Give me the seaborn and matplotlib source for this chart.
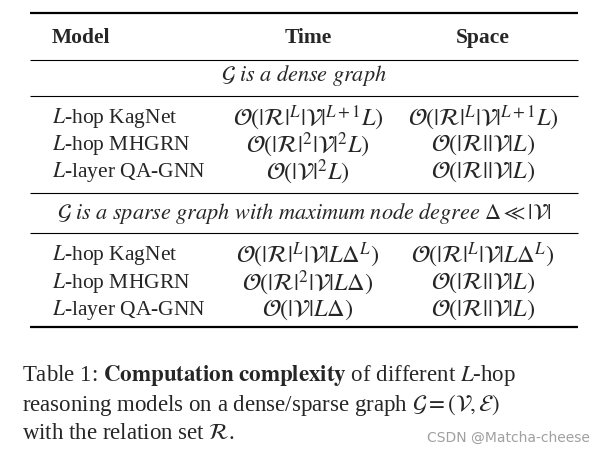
import matplotlib
matplotlib.use("Agg")
import matplotlib.pyplot as plt
import seaborn as sns

sns.set_style("white")
plt.rcParams['font.family'] = ['Liberation Serif', 'DejaVu Serif']
plt.rcParams['mathtext.fontset'] = 'stix'

headers = ["Model", "Time", "Space"]
models = [r"$L$-hop KagNet", r"$L$-hop MHGRN", r"$L$-layer QA-GNN"]
dense_title = r"$\mathcal{G}$ $\it{is\ a\ dense\ graph}$"
sparse_title = r"$\mathcal{G}$ $\it{is\ a\ sparse\ graph\ with\ maximum\ node\ degree}$ $\Delta \ll |\mathcal{V}|$"
time_dense = [r"$\mathcal{O}\left(|\mathcal{R}|^L|\mathcal{V}|^{L+1}L\right)$",
              r"$\mathcal{O}\left(|\mathcal{R}|^2|\mathcal{V}|^2L\right)$",
              r"$\mathcal{O}\left(|\mathcal{V}|^2L\right)$"]
space_dense = [r"$\mathcal{O}\left(|\mathcal{R}|^L|\mathcal{V}|^{L+1}L\right)$",
               r"$\mathcal{O}(|\mathcal{R}||\mathcal{V}|L)$",
               r"$\mathcal{O}(|\mathcal{R}||\mathcal{V}|L)$"]
time_sparse = [r"$\mathcal{O}\left(|\mathcal{R}|^L|\mathcal{V}|L\Delta^L\right)$",
               r"$\mathcal{O}\left(|\mathcal{R}|^2|\mathcal{V}|L\Delta\right)$",
               r"$\mathcal{O}(|\mathcal{V}|L\Delta)$"]
space_sparse = [r"$\mathcal{O}\left(|\mathcal{R}|^L|\mathcal{V}|L\Delta^L\right)$",
                r"$\mathcal{O}(|\mathcal{R}||\mathcal{V}|L)$",
                r"$\mathcal{O}(|\mathcal{R}||\mathcal{V}|L)$"]

fig = plt.figure(figsize=(6.05, 4.53), dpi=100)
ax = fig.add_axes([0, 0, 1, 1])
ax.set_xlim(0, 605)
ax.set_ylim(453, 0)
ax.axis('off')

fs = 15.5
mfs = 17.5
x0, x1 = 30, 578
xm, xt, xs = 52, 308, 483

def rule(y, lw):
    ax.plot([x0, x1], [y, y], color='black', lw=lw, solid_capstyle='butt')

rule(13, 1.6)
ax.text(xm, 38, headers[0], fontsize=fs, fontweight='bold', va='center')
ax.text(xt, 38, headers[1], fontsize=fs, fontweight='bold', va='center', ha='center')
ax.text(xs, 38, headers[2], fontsize=fs, fontweight='bold', va='center', ha='center')
rule(60, 0.8)
ax.text((x0 + x1) / 2, 76, dense_title, fontsize=16, ha='center', va='center')
rule(96, 0.8)
for i, y in enumerate([118, 145, 172]):
    ax.text(xm, y, models[i], fontsize=fs, va='center')
    ax.text(xt, y, time_dense[i], fontsize=mfs, va='center', ha='center')
    ax.text(xs, y, space_dense[i], fontsize=mfs, va='center', ha='center')
rule(193, 0.8)
ax.text((x0 + x1) / 2, 214, sparse_title, fontsize=16, ha='center', va='center')
rule(233, 0.8)
for i, y in enumerate([255, 283, 310]):
    ax.text(xm, y, models[i], fontsize=fs, va='center')
    ax.text(xt, y, time_sparse[i], fontsize=mfs, va='center', ha='center')
    ax.text(xs, y, space_sparse[i], fontsize=mfs, va='center', ha='center')
rule(327, 1.6)

cfs = 16.5
ax.text(22, 376, r"Table 1: $\bf{Computation\ complexity}$ of different $L$-hop", fontsize=cfs, va='center')
ax.text(22, 405, r"reasoning models on a dense/sparse graph $\mathcal{G}=(\mathcal{V},\mathcal{E})$", fontsize=cfs, va='center')
ax.text(22, 433, r"with the relation set $\mathcal{R}$.", fontsize=cfs, va='center')
ax.text(590, 438, "CSDN @Matcha-cheese", fontsize=10, color='#a0a0a0', ha='right', va='center',
        family=['DejaVu Sans'])

fig.savefig("out.png", dpi=100)
